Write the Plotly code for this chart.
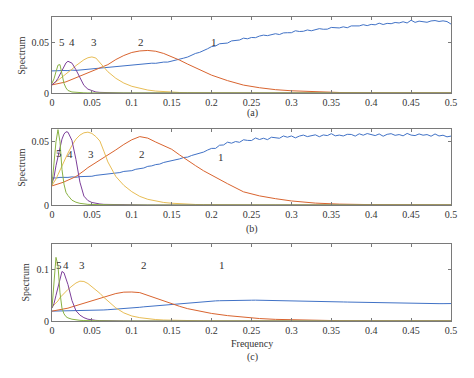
import plotly.graph_objects as go

# ---------------- data ----------------
# frequency grid for curve 1 (blue), step 0.005
F_BLUE = [round(i * 0.005, 3) for i in range(101)]

# shared frequency grid for curves 2-5
F_GRID = [0, 0.0025, 0.005, 0.0075, 0.01, 0.0125, 0.015, 0.0175, 0.02,
          0.025, 0.03, 0.035, 0.04, 0.045, 0.05, 0.055, 0.06, 0.065, 0.07,
          0.08, 0.09, 0.10, 0.11, 0.12, 0.13, 0.14, 0.15, 0.16, 0.17, 0.18,
          0.19, 0.20, 0.22, 0.24, 0.26, 0.28, 0.30, 0.33, 0.36, 0.40, 0.45, 0.50]

# ---- panel (a) ----
A1 = [0.0218, 0.0221, 0.0218, 0.0222, 0.0221, 0.0226, 0.0223, 0.0227, 0.0232, 0.0231,
      0.0239, 0.0243, 0.0243, 0.0251, 0.0251, 0.0254, 0.0262, 0.0264, 0.0265, 0.0274,
      0.0277, 0.0278, 0.0286, 0.0285, 0.0289, 0.0294, 0.0293, 0.0300, 0.0305, 0.0305,
      0.0313, 0.0323, 0.0329, 0.0344, 0.0355, 0.0373, 0.0391, 0.0401, 0.0423, 0.0437,
      0.0458, 0.0464, 0.0486, 0.0488, 0.0493, 0.0514, 0.0519, 0.0523, 0.0541, 0.0535,
      0.0548, 0.0546, 0.0562, 0.0571, 0.0566, 0.0573, 0.0585, 0.0577, 0.0593, 0.0595,
      0.0595, 0.0614, 0.0607, 0.0609, 0.0622, 0.0614, 0.0627, 0.0635, 0.0629, 0.0630,
      0.0647, 0.0642, 0.0642, 0.0653, 0.0644, 0.0662, 0.0661, 0.0662, 0.0674, 0.0665,
      0.0677, 0.0673, 0.0689, 0.0676, 0.0687, 0.0684, 0.0696, 0.0691, 0.0703, 0.0691,
      0.0718, 0.0697, 0.0709, 0.0704, 0.0698, 0.0711, 0.0715, 0.0706, 0.0712, 0.0705,
      0.0680]
A2 = [0.0080, 0.0083, 0.0087, 0.0091, 0.0095, 0.0100, 0.0105, 0.0110, 0.0118,
      0.0130, 0.0145, 0.0162, 0.0180, 0.0195, 0.0210, 0.0227, 0.0245, 0.0262, 0.0280,
      0.0330, 0.0370, 0.0400, 0.0415, 0.0420, 0.0412, 0.0390, 0.0360, 0.0324, 0.0285,
      0.0248, 0.0210, 0.0176, 0.0122, 0.0078, 0.0052, 0.0033, 0.0022, 0.0011, 0.0005,
      0.0002, 0.0001, 0.0]
A3 = [0.0085, 0.0095, 0.0110, 0.0125, 0.0140, 0.0155, 0.0170, 0.0185, 0.0200,
      0.0235, 0.0270, 0.0300, 0.0328, 0.0348, 0.0356, 0.0345, 0.0298, 0.0252, 0.0210,
      0.0145, 0.0098, 0.0066, 0.0044, 0.0029, 0.0019, 0.0012, 0.0008, 0.0005, 0.0003,
      0.0002, 0.0001, 0.0001, 0.0, 0.0, 0.0, 0.0, 0.0, 0.0, 0.0, 0.0, 0.0, 0.0]
A4 = [0.0080, 0.0095, 0.0115, 0.0145, 0.0185, 0.0225, 0.0265, 0.0297, 0.0313,
      0.0295, 0.0230, 0.0145, 0.0075, 0.0038, 0.0020, 0.0010, 0.0006, 0.0004, 0.0003,
      0.0001, 0.0, 0.0, 0.0, 0.0, 0.0, 0.0, 0.0, 0.0, 0.0, 0.0, 0.0, 0.0, 0.0, 0.0,
      0.0, 0.0, 0.0, 0.0, 0.0, 0.0, 0.0, 0.0]
A5 = [0.0095, 0.0140, 0.0210, 0.0275, 0.0280, 0.0185, 0.0095, 0.0050, 0.0025,
      0.0010, 0.0005, 0.0003, 0.0002, 0.0001, 0.0001, 0.0, 0.0, 0.0, 0.0, 0.0, 0.0,
      0.0, 0.0, 0.0, 0.0, 0.0, 0.0, 0.0, 0.0, 0.0, 0.0, 0.0, 0.0, 0.0, 0.0, 0.0, 0.0,
      0.0, 0.0, 0.0, 0.0, 0.0]

# ---- panel (b) ----
B1 = [0.0215, 0.0213, 0.0218, 0.0216, 0.0218, 0.0222, 0.0219, 0.0224, 0.0224, 0.0229,
      0.0227, 0.0234, 0.0238, 0.0238, 0.0244, 0.0251, 0.0252, 0.0256, 0.0265, 0.0269,
      0.0271, 0.0282, 0.0287, 0.0292, 0.0305, 0.0309, 0.0319, 0.0323, 0.0336, 0.0342,
      0.0348, 0.0360, 0.0364, 0.0375, 0.0378, 0.0391, 0.0399, 0.0411, 0.0418, 0.0434,
      0.0447, 0.0447, 0.0472, 0.0474, 0.0496, 0.0488, 0.0501, 0.0495, 0.0515, 0.0510,
      0.0509, 0.0529, 0.0517, 0.0527, 0.0516, 0.0535, 0.0532, 0.0527, 0.0545, 0.0535,
      0.0545, 0.0530, 0.0544, 0.0552, 0.0540, 0.0545, 0.0554, 0.0539, 0.0553, 0.0548,
      0.0563, 0.0546, 0.0552, 0.0545, 0.0558, 0.0557, 0.0544, 0.0562, 0.0551, 0.0564,
      0.0554, 0.0548, 0.0561, 0.0543, 0.0558, 0.0563, 0.0550, 0.0556, 0.0546, 0.0565,
      0.0552, 0.0548, 0.0561, 0.0551, 0.0556, 0.0543, 0.0561, 0.0545, 0.0551, 0.0538,
      0.0544]
B2 = [0.0151, 0.0155, 0.0160, 0.0165, 0.0170, 0.0176, 0.0182, 0.0188, 0.0195,
      0.0210, 0.0225, 0.0245, 0.0270, 0.0295, 0.0315, 0.0333, 0.0352, 0.0372, 0.0390,
      0.0435, 0.0478, 0.0515, 0.0540, 0.0528, 0.0497, 0.0470, 0.0440, 0.0395, 0.0350,
      0.0310, 0.0270, 0.0234, 0.0168, 0.0104, 0.0072, 0.0050, 0.0032, 0.0015, 0.0007,
      0.0003, 0.0001, 0.0]
B3 = [0.0156, 0.0180, 0.0205, 0.0240, 0.0275, 0.0310, 0.0345, 0.0380, 0.0410,
      0.0470, 0.0520, 0.0552, 0.0570, 0.0575, 0.0565, 0.0540, 0.0505, 0.0425, 0.0340,
      0.0225, 0.0155, 0.0105, 0.0068, 0.0045, 0.0030, 0.0020, 0.0014, 0.0009, 0.0006,
      0.0004, 0.0003, 0.0002, 0.0001, 0.0, 0.0, 0.0, 0.0, 0.0, 0.0, 0.0, 0.0, 0.0]
B4 = [0.0170, 0.0220, 0.0310, 0.0390, 0.0465, 0.0520, 0.0560, 0.0578, 0.0575,
      0.0510, 0.0360, 0.0180, 0.0070, 0.0035, 0.0020, 0.0012, 0.0008, 0.0005, 0.0004,
      0.0002, 0.0001, 0.0, 0.0, 0.0, 0.0, 0.0, 0.0, 0.0, 0.0, 0.0, 0.0, 0.0, 0.0,
      0.0, 0.0, 0.0, 0.0, 0.0, 0.0, 0.0, 0.0, 0.0]
B5 = [0.0160, 0.0320, 0.0500, 0.0595, 0.0500, 0.0280, 0.0165, 0.0100, 0.0075,
      0.0038, 0.0022, 0.0013, 0.0008, 0.0005, 0.0004, 0.0003, 0.0002, 0.0001, 0.0001,
      0.0, 0.0, 0.0, 0.0, 0.0, 0.0, 0.0, 0.0, 0.0, 0.0, 0.0, 0.0, 0.0, 0.0, 0.0, 0.0,
      0.0, 0.0, 0.0, 0.0, 0.0, 0.0, 0.0]

# ---- panel (c) ----
C1 = [0.0192, 0.0193, 0.0193, 0.0195, 0.0195, 0.0197, 0.0198, 0.0199, 0.0201, 0.0204,
      0.0205, 0.0209, 0.0212, 0.0215, 0.0220, 0.0224, 0.0229, 0.0235, 0.0240, 0.0247,
      0.0252, 0.0260, 0.0267, 0.0276, 0.0283, 0.0291, 0.0298, 0.0305, 0.0313, 0.0320,
      0.0327, 0.0335, 0.0341, 0.0348, 0.0354, 0.0361, 0.0366, 0.0373, 0.0378, 0.0384,
      0.0388, 0.0392, 0.0395, 0.0398, 0.0400, 0.0402, 0.0403, 0.0405, 0.0405, 0.0406,
      0.0405, 0.0406, 0.0405, 0.0404, 0.0404, 0.0402, 0.0402, 0.0399, 0.0399, 0.0396,
      0.0395, 0.0393, 0.0391, 0.0389, 0.0387, 0.0385, 0.0383, 0.0381, 0.0379, 0.0377,
      0.0375, 0.0374, 0.0372, 0.0371, 0.0369, 0.0367, 0.0366, 0.0364, 0.0363, 0.0361,
      0.0360, 0.0358, 0.0356, 0.0354, 0.0352, 0.0350, 0.0347, 0.0345, 0.0342, 0.0339,
      0.0337, 0.0335, 0.0335, 0.0336, 0.0336, 0.0337, 0.0337, 0.0338, 0.0338, 0.0339,
      0.0340]
C2 = [0.0192, 0.0198, 0.0205, 0.0212, 0.0220, 0.0227, 0.0235, 0.0242, 0.0250,
      0.0275, 0.0298, 0.0320, 0.0346, 0.0370, 0.0395, 0.0420, 0.0445, 0.0470, 0.0495,
      0.0535, 0.0562, 0.0565, 0.0553, 0.0500, 0.0440, 0.0385, 0.0327, 0.0285, 0.0240,
      0.0205, 0.0175, 0.0147, 0.0105, 0.0070, 0.0048, 0.0032, 0.0022, 0.0012, 0.0006,
      0.0002, 0.0001, 0.0]
C3 = [0.0276, 0.0310, 0.0350, 0.0390, 0.0455, 0.0500, 0.0540, 0.0580, 0.0615,
      0.0680, 0.0740, 0.0776, 0.0770, 0.0730, 0.0665, 0.0615, 0.0540, 0.0460, 0.0385,
      0.0255, 0.0158, 0.0098, 0.0065, 0.0042, 0.0028, 0.0019, 0.0013, 0.0009, 0.0006,
      0.0004, 0.0003, 0.0002, 0.0001, 0.0, 0.0, 0.0, 0.0, 0.0, 0.0, 0.0, 0.0, 0.0]
C4 = [0.0250, 0.0340, 0.0500, 0.0670, 0.0850, 0.0965, 0.0940, 0.0820, 0.0710,
      0.0400, 0.0200, 0.0115, 0.0065, 0.0035, 0.0020, 0.0012, 0.0008, 0.0005, 0.0004,
      0.0002, 0.0001, 0.0, 0.0, 0.0, 0.0, 0.0, 0.0, 0.0, 0.0, 0.0, 0.0, 0.0, 0.0,
      0.0, 0.0, 0.0, 0.0, 0.0, 0.0, 0.0, 0.0, 0.0]
C5 = [0.0260, 0.0800, 0.1240, 0.1080, 0.0550, 0.0250, 0.0140, 0.0085, 0.0060,
      0.0035, 0.0020, 0.0013, 0.0009, 0.0006, 0.0004, 0.0003, 0.0002, 0.0001, 0.0001,
      0.0, 0.0, 0.0, 0.0, 0.0, 0.0, 0.0, 0.0, 0.0, 0.0, 0.0, 0.0, 0.0, 0.0, 0.0, 0.0,
      0.0, 0.0, 0.0, 0.0, 0.0, 0.0, 0.0]

X_TICKS = [0, 0.05, 0.1, 0.15, 0.2, 0.25, 0.3, 0.35, 0.4, 0.45, 0.5]
X_TICK_TEXT = ["0", "0.05", "0.1", "0.15", "0.2", "0.25", "0.3", "0.35", "0.4", "0.45", "0.5"]
CURVE_NAMES = ["1", "2", "3", "4", "5"]
PANEL_TITLES = ["(a)", "(b)", "(c)"]

# ---------------- styling ----------------
PAGE_W, PAGE_H = 474, 378
OFF = 8                       # default page body margin
W, H = PAGE_W - OFF, PAGE_H - OFF
COLORS = ["#4172c6", "#d9642f", "#e8bd55", "#7d3f9a", "#8ab244"]
FONT = "Liberation Serif, Times New Roman, serif"
TXT = "#333333"
AX = "#7a7a7a"


def px_x(x):
    return (x - OFF) / W


def px_y(y):
    return 1 - (y - OFF) / H


panels = [
    dict(blue=A1, others=[A2, A3, A4, A5], yr=[0, 0.075], yt=[0, 0.05], ytt=["0", "0.05"],
         top=17, bot=93,
         labels=[(0.203, 0.0505), (0.111, 0.0505), (0.052, 0.0505), (0.0246, 0.0505), (0.0121, 0.0505)]),
    dict(blue=B1, others=[B2, B3, B4, B5], yr=[0, 0.06], yt=[0, 0.05], ytt=["0", "0.05"],
         top=129, bot=205,
         labels=[(0.2114, 0.0377), (0.1124, 0.0404), (0.0489, 0.0404), (0.0226, 0.0404), (0.0092, 0.0410)]),
    dict(blue=C1, others=[C2, C3, C4, C5], yr=[0, 0.15], yt=[0, 0.1], ytt=["0", "0.1"],
         top=244, bot=321,
         labels=[(0.2126, 0.1096), (0.1153, 0.1096), (0.0372, 0.1090), (0.0175, 0.1085), (0.0088, 0.1085)]),
]

fig = go.Figure()
annotations = []
xl, xr = px_x(52), px_x(451)

for i, p in enumerate(panels):
    n = "" if i == 0 else str(i + 1)
    xa, ya = "x" + n, "y" + n
    fig.add_trace(go.Scatter(x=F_BLUE, y=p["blue"], mode="lines", xaxis=xa, yaxis=ya,
                             line=dict(color=COLORS[0], width=1), showlegend=False, hoverinfo="skip"))
    for k, ys in enumerate(p["others"]):
        fig.add_trace(go.Scatter(x=F_GRID, y=ys, mode="lines", xaxis=xa, yaxis=ya,
                                 line=dict(color=COLORS[k + 1], width=1), showlegend=False,
                                 hoverinfo="skip"))
    dom = [px_y(p["bot"]), px_y(p["top"])]
    common = dict(showline=True, linecolor=AX, linewidth=1, mirror="ticks", ticks="inside",
                  ticklen=3, tickcolor=AX, showgrid=False, zeroline=False, automargin=False,
                  tickfont=dict(family=FONT, size=10, color=TXT))
    fig.update_layout(**{
        "xaxis" + n: dict(domain=[xl, xr], range=[0, 0.5], tickvals=X_TICKS, ticktext=X_TICK_TEXT,
                          anchor=ya, **common),
        "yaxis" + n: dict(domain=dom, range=p["yr"], tickvals=p["yt"], ticktext=p["ytt"],
                          anchor=xa, **common),
    })
    for name, (lx, ly) in zip(CURVE_NAMES, p["labels"]):
        annotations.append(dict(x=lx, y=ly, xref=xa, yref=ya, text=name, showarrow=False,
                                xanchor="center", yanchor="middle",
                                font=dict(family=FONT, size=11, color=TXT)))
    ytx = 20.7 if i < 2 else 25
    annotations.append(dict(x=px_x(ytx), y=px_y((p["top"] + p["bot"]) / 2), xref="paper", yref="paper",
                            text="Spectrum", textangle=-90, showarrow=False,
                            xanchor="center", yanchor="middle",
                            font=dict(family=FONT, size=10, color=TXT)))

title_y = [112.5, 229, 357]
for t, ty in zip(PANEL_TITLES, title_y):
    annotations.append(dict(x=px_x(252), y=px_y(ty), xref="paper", yref="paper", text=t,
                            showarrow=False, xanchor="center", yanchor="middle",
                            font=dict(family=FONT, size=10, color=TXT)))
annotations.append(dict(x=px_x(252), y=px_y(343), xref="paper", yref="paper", text="Frequency",
                        showarrow=False, xanchor="center", yanchor="middle",
                        font=dict(family=FONT, size=10, color=TXT)))

fig.update_layout(width=W, height=H, margin=dict(l=0, r=0, t=0, b=0, autoexpand=False),
                  paper_bgcolor="white", plot_bgcolor="white", annotations=annotations)

fig.write_html("out.html")
